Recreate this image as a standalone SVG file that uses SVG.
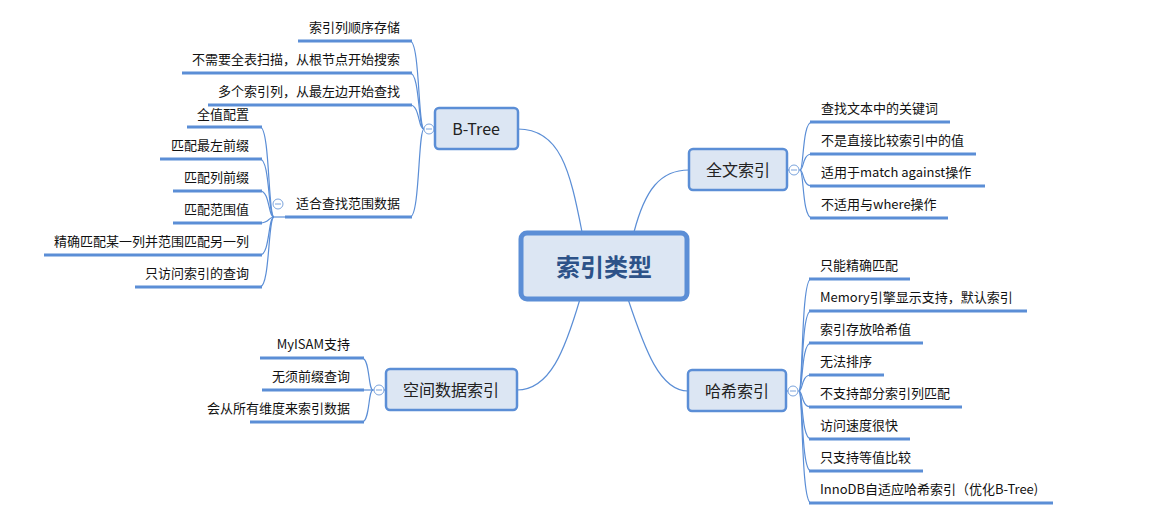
<svg xmlns="http://www.w3.org/2000/svg" width="1153" height="529" viewBox="0 0 1153 529">
<style>
.n rect{fill:#dce6f3;stroke:#5b8ed6;stroke-width:2.5}
.n text{font-family:"Noto Sans CJK SC","Liberation Sans",sans-serif;font-size:16px;fill:#222;text-anchor:middle}
.c{fill:none;stroke:#5b8ed6;stroke-width:1.2}
.u{stroke:#5b8ed6;stroke-width:3}
.t{font-family:"Noto Sans CJK SC","Liberation Sans",sans-serif;font-size:13px;fill:#111}
.r{text-anchor:end}
.o{fill:#fff;stroke:#7aa3dc;stroke-width:1}
</style>
<rect width="1153" height="529" fill="#fff"/>
<g id="connectors">
<path class="c" d="M582 232 C570 170 560 129 518 129"/>
<path class="c" d="M634 232 C645 190 660 170 689 170"/>
<path class="c" d="M580 299 C565 350 550 390 517 390"/>
<path class="c" d="M628 299 C645 350 660 391 688 391"/>
<g>
<path class="c" d="M435 129 H424"/>
<path class="c" d="M424 129 C418 129 420 41 410 41"/>
<path class="c" d="M424 129 C418 129 420 73 410 73"/>
<path class="c" d="M424 129 C418 129 420 105 410 105"/>
<path class="c" d="M424 129 C418 129 420 217 410 217"/>
<path class="c" d="M285 217 H274"/>
<path class="c" d="M274 217 C268 217 270 127 260 127"/>
<path class="c" d="M274 217 C268 217 270 159 260 159"/>
<path class="c" d="M274 217 C268 217 270 191 260 191"/>
<path class="c" d="M274 217 C268 217 270 223 260 223"/>
<path class="c" d="M274 217 C268 217 270 255 260 255"/>
<path class="c" d="M274 217 C268 217 270 287 260 287"/>
<path class="c" d="M787 170 H800"/>
<path class="c" d="M800 170 C804 170 802 122 812 122"/>
<path class="c" d="M800 170 C804 170 802 154 812 154"/>
<path class="c" d="M800 170 C804 170 802 186 812 186"/>
<path class="c" d="M800 170 C804 170 802 218 812 218"/>
<path class="c" d="M786 391 H799"/>
<path class="c" d="M799 391 C803 391 801 279 811 279"/>
<path class="c" d="M799 391 C803 391 801 311 811 311"/>
<path class="c" d="M799 391 C803 391 801 343 811 343"/>
<path class="c" d="M799 391 C803 391 801 375 811 375"/>
<path class="c" d="M799 391 C803 391 801 407 811 407"/>
<path class="c" d="M799 391 C803 391 801 439 811 439"/>
<path class="c" d="M799 391 C803 391 801 471 811 471"/>
<path class="c" d="M799 391 C803 391 801 503 811 503"/>
<path class="c" d="M386 390 H373"/>
<path class="c" d="M373 390 C368 390 370 358 362 358"/>
<path class="c" d="M373 390 C368 390 370 422 362 422"/>
<path class="c" d="M373 390 H362"/>
</g>
<g>
<line class="u" x1="298" y1="41" x2="412" y2="41"/>
<line class="u" x1="182" y1="73" x2="412" y2="73"/>
<line class="u" x1="208" y1="105" x2="412" y2="105"/>
<line class="u" x1="285" y1="217" x2="412" y2="217"/>
<line class="u" x1="187" y1="127" x2="262" y2="127"/>
<line class="u" x1="160" y1="159" x2="262" y2="159"/>
<line class="u" x1="173" y1="191" x2="262" y2="191"/>
<line class="u" x1="173" y1="223" x2="262" y2="223"/>
<line class="u" x1="44" y1="255" x2="262" y2="255"/>
<line class="u" x1="135" y1="287" x2="262" y2="287"/>
<line class="u" x1="810" y1="122" x2="950" y2="122"/>
<line class="u" x1="810" y1="154" x2="976" y2="154"/>
<line class="u" x1="810" y1="186" x2="985" y2="186"/>
<line class="u" x1="810" y1="218" x2="948" y2="218"/>
<line class="u" x1="809" y1="279" x2="910" y2="279"/>
<line class="u" x1="809" y1="311" x2="1027" y2="311"/>
<line class="u" x1="809" y1="343" x2="923" y2="343"/>
<line class="u" x1="809" y1="375" x2="884" y2="375"/>
<line class="u" x1="809" y1="407" x2="962" y2="407"/>
<line class="u" x1="809" y1="439" x2="910" y2="439"/>
<line class="u" x1="809" y1="471" x2="923" y2="471"/>
<line class="u" x1="809" y1="503" x2="1053" y2="503"/>
<line class="u" x1="260" y1="358" x2="364" y2="358"/>
<line class="u" x1="262" y1="390" x2="364" y2="390"/>
<line class="u" x1="250" y1="422" x2="364" y2="422"/>
</g>
<g>
<circle class="o" cx="429" cy="129" r="5"/><line x1="426" y1="129" x2="432" y2="129" stroke="#7aa3dc"/>
<circle class="o" cx="278" cy="204" r="5"/><line x1="275" y1="204" x2="281" y2="204" stroke="#7aa3dc"/>
<circle class="o" cx="794" cy="170" r="5"/><line x1="791" y1="170" x2="797" y2="170" stroke="#7aa3dc"/>
<circle class="o" cx="793" cy="391" r="5"/><line x1="790" y1="391" x2="796" y2="391" stroke="#7aa3dc"/>
<circle class="o" cx="379" cy="390" r="5"/><line x1="376" y1="390" x2="382" y2="390" stroke="#7aa3dc"/>
</g>
</g>
<g id="center" class="n"><rect x="521" y="233" width="166" height="66" rx="6" stroke-width="5" style="stroke-width:5"/><text x="604" y="276" style="font-size:24px;font-weight:bold;fill:#2d5288">索引类型</text></g>
<g id="btree" class="n"><rect x="435" y="108" width="83" height="41" rx="4"/><text x="476" y="135">B-Tree</text></g>
<g id="fulltext" class="n"><rect x="689" y="149" width="98" height="41" rx="4"/><text x="738" y="176">全文索引</text></g>
<g id="hash" class="n"><rect x="688" y="370" width="98" height="41" rx="4"/><text x="737" y="397">哈希索引</text></g>
<g id="spatial" class="n"><rect x="386" y="369" width="131" height="41" rx="4"/><text x="451" y="396">空间数据索引</text></g>
<g id="leaves">
<text class="t r" x="400" y="32">索引列顺序存储</text>
<text class="t r" x="400" y="64">不需要全表扫描，从根节点开始搜索</text>
<text class="t r" x="400" y="96">多个索引列，从最左边开始查找</text>
<text class="t r" x="400" y="208">适合查找范围数据</text>
<text class="t r" x="249" y="128" dy="-9">全值配置</text>
<text class="t r" x="249" y="150">匹配最左前缀</text>
<text class="t r" x="249" y="182">匹配列前缀</text>
<text class="t r" x="249" y="214">匹配范围值</text>
<text class="t r" x="249" y="246">精确匹配某一列并范围匹配另一列</text>
<text class="t r" x="249" y="278">只访问索引的查询</text>
<text class="t" x="821" y="113">查找文本中的关键词</text>
<text class="t" x="821" y="145">不是直接比较索引中的值</text>
<text class="t" x="821" y="177">适用于match against操作</text>
<text class="t" x="821" y="209">不适用与where操作</text>
<text class="t" x="820" y="270">只能精确匹配</text>
<text class="t" x="820" y="302">Memory引擎显示支持，默认索引</text>
<text class="t" x="820" y="334">索引存放哈希值</text>
<text class="t" x="820" y="366">无法排序</text>
<text class="t" x="820" y="398">不支持部分索引列匹配</text>
<text class="t" x="820" y="430">访问速度很快</text>
<text class="t" x="820" y="462">只支持等值比较</text>
<text class="t" x="820" y="494">InnoDB自适应哈希索引（优化B-Tree)</text>
<text class="t r" x="350" y="349">MyISAM支持</text>
<text class="t r" x="350" y="381">无须前缀查询</text>
<text class="t r" x="350" y="413">会从所有维度来索引数据</text>
</g>
</svg>
